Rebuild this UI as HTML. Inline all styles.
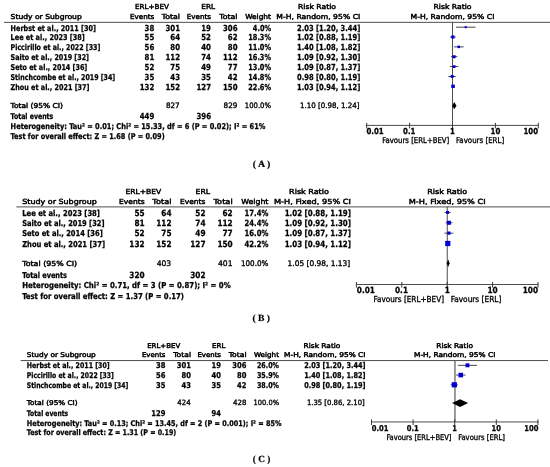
<!DOCTYPE html>
<html><head><meta charset="utf-8"><title>Forest plots</title>
<style>html,body{margin:0;padding:0;background:#fff}svg{display:block}text{font-family:'DejaVu Sans Condensed','DejaVu Sans','Liberation Sans',sans-serif;white-space:pre;text-rendering:geometricPrecision}.h{font-family:'DejaVu Sans','Liberation Sans',sans-serif}.l{font-family:'Liberation Serif','DejaVu Serif',serif}</style></head>
<body><svg width="550" height="467" viewBox="0 0 550 467">
<rect width="550" height="467" fill="#fff"/>
<text x="152.00" y="9.00" font-size="6.80" text-anchor="middle" textLength="34.09" lengthAdjust="spacingAndGlyphs" stroke="#000" stroke-width="0.45" class="h" fill="#000">ERL+BEV</text>
<text x="208.30" y="9.00" font-size="6.80" text-anchor="middle" textLength="13.84" lengthAdjust="spacingAndGlyphs" stroke="#000" stroke-width="0.45" class="h" fill="#000">ERL</text>
<text x="317.00" y="9.00" font-size="6.80" text-anchor="middle" textLength="37.97" lengthAdjust="spacingAndGlyphs" stroke="#000" stroke-width="0.45" class="h" fill="#000">Risk Ratio</text>
<text x="452.50" y="9.00" font-size="6.80" text-anchor="middle" textLength="37.97" lengthAdjust="spacingAndGlyphs" stroke="#000" stroke-width="0.45" class="h" fill="#000">Risk Ratio</text>
<text x="10.60" y="19.10" font-size="6.80" textLength="71.13" lengthAdjust="spacingAndGlyphs" stroke="#000" stroke-width="0.45" class="h" fill="#000">Study or Subgroup</text>
<text x="154.30" y="19.10" font-size="6.80" text-anchor="end" textLength="24.30" lengthAdjust="spacingAndGlyphs" stroke="#000" stroke-width="0.45" class="h" fill="#000">Events</text>
<text x="180.00" y="19.10" font-size="6.80" text-anchor="end" textLength="18.30" lengthAdjust="spacingAndGlyphs" stroke="#000" stroke-width="0.45" class="h" fill="#000">Total</text>
<text x="211.00" y="19.10" font-size="6.80" text-anchor="end" textLength="24.30" lengthAdjust="spacingAndGlyphs" stroke="#000" stroke-width="0.45" class="h" fill="#000">Events</text>
<text x="237.50" y="19.10" font-size="6.80" text-anchor="end" textLength="18.30" lengthAdjust="spacingAndGlyphs" stroke="#000" stroke-width="0.45" class="h" fill="#000">Total</text>
<text x="271.00" y="19.10" font-size="6.80" text-anchor="end" textLength="25.85" lengthAdjust="spacingAndGlyphs" stroke="#000" stroke-width="0.45" class="h" fill="#000">Weight</text>
<text x="360.30" y="19.10" font-size="6.80" text-anchor="end" textLength="83.96" lengthAdjust="spacingAndGlyphs" stroke="#000" stroke-width="0.45" class="h" fill="#000">M-H, Random, 95% CI</text>
<text x="452.50" y="19.10" font-size="6.80" text-anchor="middle" textLength="83.96" lengthAdjust="spacingAndGlyphs" stroke="#000" stroke-width="0.45" class="h" fill="#000">M-H, Random, 95% CI</text>
<rect x="4" y="21.85" width="546" height="0.9" fill="#3a3a3a"/>
<rect x="452.10" y="22.30" width="0.8" height="103.10" fill="#222"/>
<text x="10.60" y="30.55" font-size="8.00" textLength="85.40" lengthAdjust="spacingAndGlyphs" font-weight="bold" stroke="#000" stroke-width="0.25" fill="#000">Herbst et al., 2011 [30]</text>
<text x="154.30" y="30.55" font-size="8.30" text-anchor="end" textLength="9.72" lengthAdjust="spacingAndGlyphs" font-weight="bold" stroke="#000" stroke-width="0.25" fill="#000">38</text>
<text x="180.00" y="30.55" font-size="8.30" text-anchor="end" textLength="14.57" lengthAdjust="spacingAndGlyphs" font-weight="bold" stroke="#000" stroke-width="0.25" fill="#000">301</text>
<text x="211.00" y="30.55" font-size="8.30" text-anchor="end" textLength="9.72" lengthAdjust="spacingAndGlyphs" font-weight="bold" stroke="#000" stroke-width="0.25" fill="#000">19</text>
<text x="237.50" y="30.55" font-size="8.30" text-anchor="end" textLength="14.57" lengthAdjust="spacingAndGlyphs" font-weight="bold" stroke="#000" stroke-width="0.25" fill="#000">306</text>
<text x="271.00" y="30.55" font-size="8.30" text-anchor="end" textLength="18.17" lengthAdjust="spacingAndGlyphs" font-weight="bold" stroke="#000" stroke-width="0.25" fill="#000">4.0%</text>
<text x="360.30" y="30.55" font-size="8.30" text-anchor="end" textLength="63.20" lengthAdjust="spacingAndGlyphs" font-weight="bold" stroke="#000" stroke-width="0.25" fill="#000">2.03 [1.20, 3.44]</text>
<rect x="455.90" y="26.70" width="19.62" height="0.9" fill="#333"/>
<rect x="464.69" y="26.15" width="2.00" height="2.00" fill="#0000d4"/>
<text x="10.60" y="40.41" font-size="8.00" textLength="74.10" lengthAdjust="spacingAndGlyphs" font-weight="bold" stroke="#000" stroke-width="0.25" fill="#000">Lee et al., 2023 [38]</text>
<text x="154.30" y="40.41" font-size="8.30" text-anchor="end" textLength="9.72" lengthAdjust="spacingAndGlyphs" font-weight="bold" stroke="#000" stroke-width="0.25" fill="#000">55</text>
<text x="180.00" y="40.41" font-size="8.30" text-anchor="end" textLength="9.72" lengthAdjust="spacingAndGlyphs" font-weight="bold" stroke="#000" stroke-width="0.25" fill="#000">64</text>
<text x="211.00" y="40.41" font-size="8.30" text-anchor="end" textLength="9.72" lengthAdjust="spacingAndGlyphs" font-weight="bold" stroke="#000" stroke-width="0.25" fill="#000">52</text>
<text x="237.50" y="40.41" font-size="8.30" text-anchor="end" textLength="9.72" lengthAdjust="spacingAndGlyphs" font-weight="bold" stroke="#000" stroke-width="0.25" fill="#000">62</text>
<text x="271.00" y="40.41" font-size="8.30" text-anchor="end" textLength="22.72" lengthAdjust="spacingAndGlyphs" font-weight="bold" stroke="#000" stroke-width="0.25" fill="#000">18.3%</text>
<text x="360.30" y="40.41" font-size="8.30" text-anchor="end" textLength="63.20" lengthAdjust="spacingAndGlyphs" font-weight="bold" stroke="#000" stroke-width="0.25" fill="#000">1.02 [0.88, 1.19]</text>
<rect x="450.12" y="36.56" width="5.62" height="0.9" fill="#333"/>
<rect x="451.27" y="35.41" width="3.20" height="3.20" fill="#0000d4"/>
<text x="10.60" y="50.27" font-size="8.00" textLength="89.80" lengthAdjust="spacingAndGlyphs" font-weight="bold" stroke="#000" stroke-width="0.25" fill="#000">Piccirillo et al., 2022 [33]</text>
<text x="154.30" y="50.27" font-size="8.30" text-anchor="end" textLength="9.72" lengthAdjust="spacingAndGlyphs" font-weight="bold" stroke="#000" stroke-width="0.25" fill="#000">56</text>
<text x="180.00" y="50.27" font-size="8.30" text-anchor="end" textLength="9.72" lengthAdjust="spacingAndGlyphs" font-weight="bold" stroke="#000" stroke-width="0.25" fill="#000">80</text>
<text x="211.00" y="50.27" font-size="8.30" text-anchor="end" textLength="9.72" lengthAdjust="spacingAndGlyphs" font-weight="bold" stroke="#000" stroke-width="0.25" fill="#000">40</text>
<text x="237.50" y="50.27" font-size="8.30" text-anchor="end" textLength="9.72" lengthAdjust="spacingAndGlyphs" font-weight="bold" stroke="#000" stroke-width="0.25" fill="#000">80</text>
<text x="271.00" y="50.27" font-size="8.30" text-anchor="end" textLength="22.72" lengthAdjust="spacingAndGlyphs" font-weight="bold" stroke="#000" stroke-width="0.25" fill="#000">11.0%</text>
<text x="360.30" y="50.27" font-size="8.30" text-anchor="end" textLength="63.20" lengthAdjust="spacingAndGlyphs" font-weight="bold" stroke="#000" stroke-width="0.25" fill="#000">1.40 [1.08, 1.82]</text>
<rect x="453.93" y="46.42" width="9.72" height="0.9" fill="#333"/>
<rect x="457.52" y="45.62" width="2.50" height="2.50" fill="#0000d4"/>
<text x="10.60" y="60.13" font-size="8.00" textLength="78.40" lengthAdjust="spacingAndGlyphs" font-weight="bold" stroke="#000" stroke-width="0.25" fill="#000">Saito et al., 2019 [32]</text>
<text x="154.30" y="60.13" font-size="8.30" text-anchor="end" textLength="9.72" lengthAdjust="spacingAndGlyphs" font-weight="bold" stroke="#000" stroke-width="0.25" fill="#000">81</text>
<text x="180.00" y="60.13" font-size="8.30" text-anchor="end" textLength="14.57" lengthAdjust="spacingAndGlyphs" font-weight="bold" stroke="#000" stroke-width="0.25" fill="#000">112</text>
<text x="211.00" y="60.13" font-size="8.30" text-anchor="end" textLength="9.72" lengthAdjust="spacingAndGlyphs" font-weight="bold" stroke="#000" stroke-width="0.25" fill="#000">74</text>
<text x="237.50" y="60.13" font-size="8.30" text-anchor="end" textLength="14.57" lengthAdjust="spacingAndGlyphs" font-weight="bold" stroke="#000" stroke-width="0.25" fill="#000">112</text>
<text x="271.00" y="60.13" font-size="8.30" text-anchor="end" textLength="22.72" lengthAdjust="spacingAndGlyphs" font-weight="bold" stroke="#000" stroke-width="0.25" fill="#000">16.3%</text>
<text x="360.30" y="60.13" font-size="8.30" text-anchor="end" textLength="63.20" lengthAdjust="spacingAndGlyphs" font-weight="bold" stroke="#000" stroke-width="0.25" fill="#000">1.09 [0.92, 1.30]</text>
<rect x="450.95" y="56.28" width="6.44" height="0.9" fill="#333"/>
<rect x="452.61" y="55.23" width="3.00" height="3.00" fill="#0000d4"/>
<text x="10.60" y="69.99" font-size="8.00" textLength="76.70" lengthAdjust="spacingAndGlyphs" font-weight="bold" stroke="#000" stroke-width="0.25" fill="#000">Seto et al., 2014 [36]</text>
<text x="154.30" y="69.99" font-size="8.30" text-anchor="end" textLength="9.72" lengthAdjust="spacingAndGlyphs" font-weight="bold" stroke="#000" stroke-width="0.25" fill="#000">52</text>
<text x="180.00" y="69.99" font-size="8.30" text-anchor="end" textLength="9.72" lengthAdjust="spacingAndGlyphs" font-weight="bold" stroke="#000" stroke-width="0.25" fill="#000">75</text>
<text x="211.00" y="69.99" font-size="8.30" text-anchor="end" textLength="9.72" lengthAdjust="spacingAndGlyphs" font-weight="bold" stroke="#000" stroke-width="0.25" fill="#000">49</text>
<text x="237.50" y="69.99" font-size="8.30" text-anchor="end" textLength="9.72" lengthAdjust="spacingAndGlyphs" font-weight="bold" stroke="#000" stroke-width="0.25" fill="#000">77</text>
<text x="271.00" y="69.99" font-size="8.30" text-anchor="end" textLength="22.72" lengthAdjust="spacingAndGlyphs" font-weight="bold" stroke="#000" stroke-width="0.25" fill="#000">13.0%</text>
<text x="360.30" y="69.99" font-size="8.30" text-anchor="end" textLength="63.20" lengthAdjust="spacingAndGlyphs" font-weight="bold" stroke="#000" stroke-width="0.25" fill="#000">1.09 [0.87, 1.37]</text>
<rect x="449.91" y="66.14" width="8.46" height="0.9" fill="#333"/>
<rect x="452.76" y="65.24" width="2.70" height="2.70" fill="#0000d4"/>
<text x="10.60" y="79.85" font-size="8.00" textLength="104.60" lengthAdjust="spacingAndGlyphs" font-weight="bold" stroke="#000" stroke-width="0.25" fill="#000">Stinchcombe et al., 2019 [34]</text>
<text x="154.30" y="79.85" font-size="8.30" text-anchor="end" textLength="9.72" lengthAdjust="spacingAndGlyphs" font-weight="bold" stroke="#000" stroke-width="0.25" fill="#000">35</text>
<text x="180.00" y="79.85" font-size="8.30" text-anchor="end" textLength="9.72" lengthAdjust="spacingAndGlyphs" font-weight="bold" stroke="#000" stroke-width="0.25" fill="#000">43</text>
<text x="211.00" y="79.85" font-size="8.30" text-anchor="end" textLength="9.72" lengthAdjust="spacingAndGlyphs" font-weight="bold" stroke="#000" stroke-width="0.25" fill="#000">35</text>
<text x="237.50" y="79.85" font-size="8.30" text-anchor="end" textLength="9.72" lengthAdjust="spacingAndGlyphs" font-weight="bold" stroke="#000" stroke-width="0.25" fill="#000">42</text>
<text x="271.00" y="79.85" font-size="8.30" text-anchor="end" textLength="22.72" lengthAdjust="spacingAndGlyphs" font-weight="bold" stroke="#000" stroke-width="0.25" fill="#000">14.8%</text>
<text x="360.30" y="79.85" font-size="8.30" text-anchor="end" textLength="63.20" lengthAdjust="spacingAndGlyphs" font-weight="bold" stroke="#000" stroke-width="0.25" fill="#000">0.98 [0.80, 1.19]</text>
<rect x="448.34" y="76.00" width="7.40" height="0.9" fill="#333"/>
<rect x="450.67" y="75.00" width="2.90" height="2.90" fill="#0000d4"/>
<text x="10.60" y="89.71" font-size="8.00" textLength="78.90" lengthAdjust="spacingAndGlyphs" font-weight="bold" stroke="#000" stroke-width="0.25" fill="#000">Zhou et al., 2021 [37]</text>
<text x="154.30" y="89.71" font-size="8.30" text-anchor="end" textLength="14.57" lengthAdjust="spacingAndGlyphs" font-weight="bold" stroke="#000" stroke-width="0.25" fill="#000">132</text>
<text x="180.00" y="89.71" font-size="8.30" text-anchor="end" textLength="14.57" lengthAdjust="spacingAndGlyphs" font-weight="bold" stroke="#000" stroke-width="0.25" fill="#000">152</text>
<text x="211.00" y="89.71" font-size="8.30" text-anchor="end" textLength="14.57" lengthAdjust="spacingAndGlyphs" font-weight="bold" stroke="#000" stroke-width="0.25" fill="#000">127</text>
<text x="237.50" y="89.71" font-size="8.30" text-anchor="end" textLength="14.57" lengthAdjust="spacingAndGlyphs" font-weight="bold" stroke="#000" stroke-width="0.25" fill="#000">150</text>
<text x="271.00" y="89.71" font-size="8.30" text-anchor="end" textLength="22.72" lengthAdjust="spacingAndGlyphs" font-weight="bold" stroke="#000" stroke-width="0.25" fill="#000">22.6%</text>
<text x="360.30" y="89.71" font-size="8.30" text-anchor="end" textLength="63.20" lengthAdjust="spacingAndGlyphs" font-weight="bold" stroke="#000" stroke-width="0.25" fill="#000">1.03 [0.94, 1.12]</text>
<rect x="451.35" y="85.86" width="3.26" height="0.9" fill="#333"/>
<rect x="451.30" y="84.56" width="3.50" height="3.50" fill="#0000d4"/>
<text x="10.60" y="108.01" font-size="6.80" textLength="52.40" lengthAdjust="spacingAndGlyphs" stroke="#000" stroke-width="0.45" class="h" fill="#000">Total (95% CI)</text>
<text x="179.70" y="108.01" font-size="7.48" text-anchor="end" textLength="13.80" lengthAdjust="spacingAndGlyphs" stroke="#000" stroke-width="0.35" class="h" fill="#000">827</text>
<text x="237.40" y="108.01" font-size="7.48" text-anchor="end" textLength="13.90" lengthAdjust="spacingAndGlyphs" stroke="#000" stroke-width="0.35" class="h" fill="#000">829</text>
<text x="271.00" y="108.01" font-size="7.48" text-anchor="end" textLength="26.20" lengthAdjust="spacingAndGlyphs" stroke="#000" stroke-width="0.35" class="h" fill="#000">100.0%</text>
<text x="359.50" y="108.01" font-size="7.48" text-anchor="end" textLength="59.60" lengthAdjust="spacingAndGlyphs" stroke="#000" stroke-width="0.35" class="h" fill="#000">1.10 [0.98, 1.24]</text>
<polygon points="452.12,105.63 454.28,102.03 456.51,105.63 454.28,109.23" fill="#000"/>
<text x="10.60" y="119.11" font-size="8.00" textLength="42.70" lengthAdjust="spacingAndGlyphs" font-weight="bold" stroke="#000" stroke-width="0.25" fill="#000">Total events</text>
<text x="154.30" y="119.11" font-size="8.30" text-anchor="end" textLength="14.57" lengthAdjust="spacingAndGlyphs" font-weight="bold" stroke="#000" stroke-width="0.25" fill="#000">449</text>
<text x="211.00" y="119.11" font-size="8.30" text-anchor="end" textLength="14.57" lengthAdjust="spacingAndGlyphs" font-weight="bold" stroke="#000" stroke-width="0.25" fill="#000">396</text>
<text x="10.60" y="128.96" font-size="8.00" textLength="254.81" lengthAdjust="spacingAndGlyphs" font-weight="bold" stroke="#000" stroke-width="0.25" fill="#000">Heterogeneity: Tau² = 0.01; Chi² = 15.33, df = 6 (P = 0.02); I² = 61%</text>
<text x="10.60" y="138.76" font-size="8.00" textLength="154.07" lengthAdjust="spacingAndGlyphs" font-weight="bold" stroke="#000" stroke-width="0.25" fill="#000">Test for overall effect: Z = 1.68 (P = 0.09)</text>
<rect x="365.90" y="124.90" width="172.60" height="0.9" fill="#3a3a3a"/>
<rect x="366.20" y="122.80" width="1" height="5.6" fill="#3a3a3a"/>
<rect x="409.10" y="122.80" width="1" height="5.6" fill="#3a3a3a"/>
<rect x="452.00" y="122.80" width="1" height="5.6" fill="#3a3a3a"/>
<rect x="494.90" y="122.80" width="1" height="5.6" fill="#3a3a3a"/>
<rect x="537.80" y="122.80" width="1" height="5.6" fill="#3a3a3a"/>
<text x="366.40" y="133.80" font-size="8.30" textLength="17.23" lengthAdjust="spacingAndGlyphs" font-weight="bold" stroke="#000" stroke-width="0.25" fill="#000">0.01</text>
<text x="409.30" y="133.80" font-size="8.30" text-anchor="middle" textLength="12.37" lengthAdjust="spacingAndGlyphs" font-weight="bold" stroke="#000" stroke-width="0.25" fill="#000">0.1</text>
<text x="452.50" y="133.80" font-size="8.30" text-anchor="middle" textLength="4.86" lengthAdjust="spacingAndGlyphs" font-weight="bold" stroke="#000" stroke-width="0.25" fill="#000">1</text>
<text x="495.40" y="133.80" font-size="8.30" text-anchor="middle" textLength="9.72" lengthAdjust="spacingAndGlyphs" font-weight="bold" stroke="#000" stroke-width="0.25" fill="#000">10</text>
<text x="538.00" y="133.80" font-size="8.30" text-anchor="end" textLength="14.57" lengthAdjust="spacingAndGlyphs" font-weight="bold" stroke="#000" stroke-width="0.25" fill="#000">100</text>
<text x="449.30" y="142.70" font-size="8.00" text-anchor="end" textLength="67.11" lengthAdjust="spacingAndGlyphs" stroke="#000" stroke-width="0.3" fill="#000">Favours [ERL+BEV]</text>
<text x="456.00" y="142.70" font-size="8.00" textLength="48.19" lengthAdjust="spacingAndGlyphs" stroke="#000" stroke-width="0.3" fill="#000">Favours [ERL]</text>
<text x="261.50" y="166.90" font-size="9.40" text-anchor="middle" textLength="17.50" lengthAdjust="spacingAndGlyphs" font-weight="bold" stroke="#000" stroke-width="0.2" class="l" fill="#000">( A )</text>
<text x="143.40" y="193.50" font-size="7.00" text-anchor="middle" textLength="35.79" lengthAdjust="spacingAndGlyphs" stroke="#000" stroke-width="0.45" class="h" fill="#000">ERL+BEV</text>
<text x="202.80" y="193.50" font-size="7.00" text-anchor="middle" textLength="14.54" lengthAdjust="spacingAndGlyphs" stroke="#000" stroke-width="0.45" class="h" fill="#000">ERL</text>
<text x="309.00" y="193.50" font-size="7.00" text-anchor="middle" textLength="39.87" lengthAdjust="spacingAndGlyphs" stroke="#000" stroke-width="0.45" class="h" fill="#000">Risk Ratio</text>
<text x="447.20" y="193.50" font-size="7.00" text-anchor="middle" textLength="39.87" lengthAdjust="spacingAndGlyphs" stroke="#000" stroke-width="0.45" class="h" fill="#000">Risk Ratio</text>
<text x="22.20" y="204.00" font-size="7.00" textLength="74.69" lengthAdjust="spacingAndGlyphs" stroke="#000" stroke-width="0.45" class="h" fill="#000">Study or Subgroup</text>
<text x="144.60" y="204.00" font-size="7.00" text-anchor="end" textLength="25.52" lengthAdjust="spacingAndGlyphs" stroke="#000" stroke-width="0.45" class="h" fill="#000">Events</text>
<text x="171.50" y="204.00" font-size="7.00" text-anchor="end" textLength="19.21" lengthAdjust="spacingAndGlyphs" stroke="#000" stroke-width="0.45" class="h" fill="#000">Total</text>
<text x="205.50" y="204.00" font-size="7.00" text-anchor="end" textLength="25.52" lengthAdjust="spacingAndGlyphs" stroke="#000" stroke-width="0.45" class="h" fill="#000">Events</text>
<text x="232.70" y="204.00" font-size="7.00" text-anchor="end" textLength="19.21" lengthAdjust="spacingAndGlyphs" stroke="#000" stroke-width="0.45" class="h" fill="#000">Total</text>
<text x="268.40" y="204.00" font-size="7.00" text-anchor="end" textLength="27.14" lengthAdjust="spacingAndGlyphs" stroke="#000" stroke-width="0.45" class="h" fill="#000">Weight</text>
<text x="351.00" y="204.00" font-size="7.00" text-anchor="end" textLength="77.01" lengthAdjust="spacingAndGlyphs" stroke="#000" stroke-width="0.45" class="h" fill="#000">M-H, Fixed, 95% CI</text>
<text x="447.20" y="204.00" font-size="7.00" text-anchor="middle" textLength="77.01" lengthAdjust="spacingAndGlyphs" stroke="#000" stroke-width="0.45" class="h" fill="#000">M-H, Fixed, 95% CI</text>
<rect x="16.4" y="206.45" width="533.6" height="0.9" fill="#3a3a3a"/>
<rect x="446.80" y="206.90" width="0.8" height="77.70" fill="#222"/>
<text x="22.20" y="215.60" font-size="8.24" textLength="77.80" lengthAdjust="spacingAndGlyphs" font-weight="bold" stroke="#000" stroke-width="0.25" fill="#000">Lee et al., 2023 [38]</text>
<text x="144.60" y="215.60" font-size="8.55" text-anchor="end" textLength="10.20" lengthAdjust="spacingAndGlyphs" font-weight="bold" stroke="#000" stroke-width="0.25" fill="#000">55</text>
<text x="171.50" y="215.60" font-size="8.55" text-anchor="end" textLength="10.20" lengthAdjust="spacingAndGlyphs" font-weight="bold" stroke="#000" stroke-width="0.25" fill="#000">64</text>
<text x="205.50" y="215.60" font-size="8.55" text-anchor="end" textLength="10.20" lengthAdjust="spacingAndGlyphs" font-weight="bold" stroke="#000" stroke-width="0.25" fill="#000">52</text>
<text x="232.70" y="215.60" font-size="8.55" text-anchor="end" textLength="10.20" lengthAdjust="spacingAndGlyphs" font-weight="bold" stroke="#000" stroke-width="0.25" fill="#000">62</text>
<text x="268.40" y="215.60" font-size="8.55" text-anchor="end" textLength="23.86" lengthAdjust="spacingAndGlyphs" font-weight="bold" stroke="#000" stroke-width="0.25" fill="#000">17.4%</text>
<text x="351.00" y="215.60" font-size="8.55" text-anchor="end" textLength="66.36" lengthAdjust="spacingAndGlyphs" font-weight="bold" stroke="#000" stroke-width="0.25" fill="#000">1.02 [0.88, 1.19]</text>
<rect x="444.68" y="211.98" width="5.95" height="0.9" fill="#333"/>
<rect x="446.09" y="210.93" width="3.00" height="3.00" fill="#0000d4"/>
<text x="22.20" y="225.95" font-size="8.24" textLength="82.32" lengthAdjust="spacingAndGlyphs" font-weight="bold" stroke="#000" stroke-width="0.25" fill="#000">Saito et al., 2019 [32]</text>
<text x="144.60" y="225.95" font-size="8.55" text-anchor="end" textLength="10.20" lengthAdjust="spacingAndGlyphs" font-weight="bold" stroke="#000" stroke-width="0.25" fill="#000">81</text>
<text x="171.50" y="225.95" font-size="8.55" text-anchor="end" textLength="15.30" lengthAdjust="spacingAndGlyphs" font-weight="bold" stroke="#000" stroke-width="0.25" fill="#000">112</text>
<text x="205.50" y="225.95" font-size="8.55" text-anchor="end" textLength="10.20" lengthAdjust="spacingAndGlyphs" font-weight="bold" stroke="#000" stroke-width="0.25" fill="#000">74</text>
<text x="232.70" y="225.95" font-size="8.55" text-anchor="end" textLength="15.30" lengthAdjust="spacingAndGlyphs" font-weight="bold" stroke="#000" stroke-width="0.25" fill="#000">112</text>
<text x="268.40" y="225.95" font-size="8.55" text-anchor="end" textLength="23.86" lengthAdjust="spacingAndGlyphs" font-weight="bold" stroke="#000" stroke-width="0.25" fill="#000">24.4%</text>
<text x="351.00" y="225.95" font-size="8.55" text-anchor="end" textLength="66.36" lengthAdjust="spacingAndGlyphs" font-weight="bold" stroke="#000" stroke-width="0.25" fill="#000">1.09 [0.92, 1.30]</text>
<rect x="445.56" y="222.33" width="6.82" height="0.9" fill="#333"/>
<rect x="446.90" y="220.78" width="4.00" height="4.00" fill="#0000d4"/>
<text x="22.20" y="236.30" font-size="8.24" textLength="80.54" lengthAdjust="spacingAndGlyphs" font-weight="bold" stroke="#000" stroke-width="0.25" fill="#000">Seto et al., 2014 [36]</text>
<text x="144.60" y="236.30" font-size="8.55" text-anchor="end" textLength="10.20" lengthAdjust="spacingAndGlyphs" font-weight="bold" stroke="#000" stroke-width="0.25" fill="#000">52</text>
<text x="171.50" y="236.30" font-size="8.55" text-anchor="end" textLength="10.20" lengthAdjust="spacingAndGlyphs" font-weight="bold" stroke="#000" stroke-width="0.25" fill="#000">75</text>
<text x="205.50" y="236.30" font-size="8.55" text-anchor="end" textLength="10.20" lengthAdjust="spacingAndGlyphs" font-weight="bold" stroke="#000" stroke-width="0.25" fill="#000">49</text>
<text x="232.70" y="236.30" font-size="8.55" text-anchor="end" textLength="10.20" lengthAdjust="spacingAndGlyphs" font-weight="bold" stroke="#000" stroke-width="0.25" fill="#000">77</text>
<text x="268.40" y="236.30" font-size="8.55" text-anchor="end" textLength="23.86" lengthAdjust="spacingAndGlyphs" font-weight="bold" stroke="#000" stroke-width="0.25" fill="#000">16.0%</text>
<text x="351.00" y="236.30" font-size="8.55" text-anchor="end" textLength="66.36" lengthAdjust="spacingAndGlyphs" font-weight="bold" stroke="#000" stroke-width="0.25" fill="#000">1.09 [0.87, 1.37]</text>
<rect x="444.45" y="232.68" width="8.95" height="0.9" fill="#333"/>
<rect x="447.30" y="231.53" width="3.20" height="3.20" fill="#0000d4"/>
<text x="22.20" y="246.65" font-size="8.24" textLength="82.84" lengthAdjust="spacingAndGlyphs" font-weight="bold" stroke="#000" stroke-width="0.25" fill="#000">Zhou et al., 2021 [37]</text>
<text x="144.60" y="246.65" font-size="8.55" text-anchor="end" textLength="15.30" lengthAdjust="spacingAndGlyphs" font-weight="bold" stroke="#000" stroke-width="0.25" fill="#000">132</text>
<text x="171.50" y="246.65" font-size="8.55" text-anchor="end" textLength="15.30" lengthAdjust="spacingAndGlyphs" font-weight="bold" stroke="#000" stroke-width="0.25" fill="#000">152</text>
<text x="205.50" y="246.65" font-size="8.55" text-anchor="end" textLength="15.30" lengthAdjust="spacingAndGlyphs" font-weight="bold" stroke="#000" stroke-width="0.25" fill="#000">127</text>
<text x="232.70" y="246.65" font-size="8.55" text-anchor="end" textLength="15.30" lengthAdjust="spacingAndGlyphs" font-weight="bold" stroke="#000" stroke-width="0.25" fill="#000">150</text>
<text x="268.40" y="246.65" font-size="8.55" text-anchor="end" textLength="23.86" lengthAdjust="spacingAndGlyphs" font-weight="bold" stroke="#000" stroke-width="0.25" fill="#000">42.2%</text>
<text x="351.00" y="246.65" font-size="8.55" text-anchor="end" textLength="66.36" lengthAdjust="spacingAndGlyphs" font-weight="bold" stroke="#000" stroke-width="0.25" fill="#000">1.03 [0.94, 1.12]</text>
<rect x="445.98" y="243.03" width="3.45" height="0.9" fill="#333"/>
<rect x="445.18" y="240.88" width="5.20" height="5.20" fill="#0000d4"/>
<text x="22.20" y="265.86" font-size="7.00" textLength="55.02" lengthAdjust="spacingAndGlyphs" stroke="#000" stroke-width="0.45" class="h" fill="#000">Total (95% CI)</text>
<text x="171.20" y="265.86" font-size="7.70" text-anchor="end" textLength="14.49" lengthAdjust="spacingAndGlyphs" stroke="#000" stroke-width="0.35" class="h" fill="#000">403</text>
<text x="232.60" y="265.86" font-size="7.70" text-anchor="end" textLength="14.60" lengthAdjust="spacingAndGlyphs" stroke="#000" stroke-width="0.35" class="h" fill="#000">401</text>
<text x="268.40" y="265.86" font-size="7.70" text-anchor="end" textLength="27.51" lengthAdjust="spacingAndGlyphs" stroke="#000" stroke-width="0.35" class="h" fill="#000">100.0%</text>
<text x="350.20" y="265.86" font-size="7.70" text-anchor="end" textLength="62.58" lengthAdjust="spacingAndGlyphs" stroke="#000" stroke-width="0.35" class="h" fill="#000">1.05 [0.98, 1.13]</text>
<polygon points="446.80,263.28 448.16,259.50 449.61,263.28 448.16,267.06" fill="#000"/>
<text x="22.20" y="277.92" font-size="8.24" textLength="44.84" lengthAdjust="spacingAndGlyphs" font-weight="bold" stroke="#000" stroke-width="0.25" fill="#000">Total events</text>
<text x="144.60" y="277.92" font-size="8.55" text-anchor="end" textLength="15.30" lengthAdjust="spacingAndGlyphs" font-weight="bold" stroke="#000" stroke-width="0.25" fill="#000">320</text>
<text x="205.50" y="277.92" font-size="8.55" text-anchor="end" textLength="15.30" lengthAdjust="spacingAndGlyphs" font-weight="bold" stroke="#000" stroke-width="0.25" fill="#000">302</text>
<text x="22.20" y="288.26" font-size="8.24" textLength="208.43" lengthAdjust="spacingAndGlyphs" font-weight="bold" stroke="#000" stroke-width="0.25" fill="#000">Heterogeneity: Chi² = 0.71, df = 3 (P = 0.87); I² = 0%</text>
<text x="22.20" y="298.55" font-size="8.24" textLength="161.77" lengthAdjust="spacingAndGlyphs" font-weight="bold" stroke="#000" stroke-width="0.25" fill="#000">Test for overall effect: Z = 1.37 (P = 0.17)</text>
<rect x="356.30" y="284.10" width="182.20" height="0.9" fill="#3a3a3a"/>
<rect x="355.90" y="282.00" width="1" height="5.6" fill="#3a3a3a"/>
<rect x="401.30" y="282.00" width="1" height="5.6" fill="#3a3a3a"/>
<rect x="446.70" y="282.00" width="1" height="5.6" fill="#3a3a3a"/>
<rect x="492.10" y="282.00" width="1" height="5.6" fill="#3a3a3a"/>
<rect x="537.50" y="282.00" width="1" height="5.6" fill="#3a3a3a"/>
<text x="356.80" y="293.20" font-size="8.55" textLength="18.09" lengthAdjust="spacingAndGlyphs" font-weight="bold" stroke="#000" stroke-width="0.25" fill="#000">0.01</text>
<text x="401.50" y="293.20" font-size="8.55" text-anchor="middle" textLength="12.99" lengthAdjust="spacingAndGlyphs" font-weight="bold" stroke="#000" stroke-width="0.25" fill="#000">0.1</text>
<text x="447.20" y="293.20" font-size="8.55" text-anchor="middle" textLength="5.10" lengthAdjust="spacingAndGlyphs" font-weight="bold" stroke="#000" stroke-width="0.25" fill="#000">1</text>
<text x="492.60" y="293.20" font-size="8.55" text-anchor="middle" textLength="10.20" lengthAdjust="spacingAndGlyphs" font-weight="bold" stroke="#000" stroke-width="0.25" fill="#000">10</text>
<text x="538.00" y="293.20" font-size="8.55" text-anchor="end" textLength="15.30" lengthAdjust="spacingAndGlyphs" font-weight="bold" stroke="#000" stroke-width="0.25" fill="#000">100</text>
<text x="444.00" y="302.30" font-size="8.24" text-anchor="end" textLength="70.47" lengthAdjust="spacingAndGlyphs" stroke="#000" stroke-width="0.3" fill="#000">Favours [ERL+BEV]</text>
<text x="450.70" y="302.30" font-size="8.24" textLength="50.60" lengthAdjust="spacingAndGlyphs" stroke="#000" stroke-width="0.3" fill="#000">Favours [ERL]</text>
<text x="261.30" y="320.70" font-size="9.40" text-anchor="middle" textLength="17.50" lengthAdjust="spacingAndGlyphs" font-weight="bold" stroke="#000" stroke-width="0.2" class="l" fill="#000">( B )</text>
<text x="163.70" y="347.60" font-size="6.60" text-anchor="middle" textLength="33.07" lengthAdjust="spacingAndGlyphs" stroke="#000" stroke-width="0.45" class="h" fill="#000">ERL+BEV</text>
<text x="218.70" y="347.60" font-size="6.60" text-anchor="middle" textLength="13.43" lengthAdjust="spacingAndGlyphs" stroke="#000" stroke-width="0.45" class="h" fill="#000">ERL</text>
<text x="322.00" y="347.60" font-size="6.60" text-anchor="middle" textLength="36.83" lengthAdjust="spacingAndGlyphs" stroke="#000" stroke-width="0.45" class="h" fill="#000">Risk Ratio</text>
<text x="454.70" y="347.60" font-size="6.60" text-anchor="middle" textLength="36.83" lengthAdjust="spacingAndGlyphs" stroke="#000" stroke-width="0.45" class="h" fill="#000">Risk Ratio</text>
<text x="26.80" y="357.30" font-size="6.60" textLength="69.00" lengthAdjust="spacingAndGlyphs" stroke="#000" stroke-width="0.45" class="h" fill="#000">Study or Subgroup</text>
<text x="165.50" y="357.30" font-size="6.60" text-anchor="end" textLength="23.57" lengthAdjust="spacingAndGlyphs" stroke="#000" stroke-width="0.45" class="h" fill="#000">Events</text>
<text x="191.00" y="357.30" font-size="6.60" text-anchor="end" textLength="17.75" lengthAdjust="spacingAndGlyphs" stroke="#000" stroke-width="0.45" class="h" fill="#000">Total</text>
<text x="221.00" y="357.30" font-size="6.60" text-anchor="end" textLength="23.57" lengthAdjust="spacingAndGlyphs" stroke="#000" stroke-width="0.45" class="h" fill="#000">Events</text>
<text x="246.50" y="357.30" font-size="6.60" text-anchor="end" textLength="17.75" lengthAdjust="spacingAndGlyphs" stroke="#000" stroke-width="0.45" class="h" fill="#000">Total</text>
<text x="279.00" y="357.30" font-size="6.60" text-anchor="end" textLength="25.08" lengthAdjust="spacingAndGlyphs" stroke="#000" stroke-width="0.45" class="h" fill="#000">Weight</text>
<text x="365.50" y="357.30" font-size="6.60" text-anchor="end" textLength="81.45" lengthAdjust="spacingAndGlyphs" stroke="#000" stroke-width="0.45" class="h" fill="#000">M-H, Random, 95% CI</text>
<text x="454.70" y="357.30" font-size="6.60" text-anchor="middle" textLength="81.45" lengthAdjust="spacingAndGlyphs" stroke="#000" stroke-width="0.45" class="h" fill="#000">M-H, Random, 95% CI</text>
<rect x="20.7" y="360.15" width="527.3" height="0.9" fill="#3a3a3a"/>
<rect x="454.35" y="360.60" width="1.2" height="61.40" fill="#5a5a5a"/>
<text x="26.80" y="368.20" font-size="7.76" textLength="82.84" lengthAdjust="spacingAndGlyphs" font-weight="bold" stroke="#000" stroke-width="0.25" fill="#000">Herbst et al., 2011 [30]</text>
<text x="165.50" y="368.20" font-size="8.05" text-anchor="end" textLength="9.42" lengthAdjust="spacingAndGlyphs" font-weight="bold" stroke="#000" stroke-width="0.25" fill="#000">38</text>
<text x="191.00" y="368.20" font-size="8.05" text-anchor="end" textLength="14.14" lengthAdjust="spacingAndGlyphs" font-weight="bold" stroke="#000" stroke-width="0.25" fill="#000">301</text>
<text x="221.00" y="368.20" font-size="8.05" text-anchor="end" textLength="9.42" lengthAdjust="spacingAndGlyphs" font-weight="bold" stroke="#000" stroke-width="0.25" fill="#000">19</text>
<text x="246.50" y="368.20" font-size="8.05" text-anchor="end" textLength="14.14" lengthAdjust="spacingAndGlyphs" font-weight="bold" stroke="#000" stroke-width="0.25" fill="#000">306</text>
<text x="279.00" y="368.20" font-size="8.05" text-anchor="end" textLength="22.04" lengthAdjust="spacingAndGlyphs" font-weight="bold" stroke="#000" stroke-width="0.25" fill="#000">26.0%</text>
<text x="365.50" y="368.20" font-size="8.05" text-anchor="end" textLength="61.31" lengthAdjust="spacingAndGlyphs" font-weight="bold" stroke="#000" stroke-width="0.25" fill="#000">2.03 [1.20, 3.44]</text>
<rect x="457.99" y="364.85" width="19.03" height="0.9" fill="#333"/>
<rect x="465.54" y="363.35" width="3.90" height="3.90" fill="#0000d4"/>
<text x="26.80" y="377.95" font-size="7.76" textLength="87.11" lengthAdjust="spacingAndGlyphs" font-weight="bold" stroke="#000" stroke-width="0.25" fill="#000">Piccirillo et al., 2022 [33]</text>
<text x="165.50" y="377.95" font-size="8.05" text-anchor="end" textLength="9.42" lengthAdjust="spacingAndGlyphs" font-weight="bold" stroke="#000" stroke-width="0.25" fill="#000">56</text>
<text x="191.00" y="377.95" font-size="8.05" text-anchor="end" textLength="9.42" lengthAdjust="spacingAndGlyphs" font-weight="bold" stroke="#000" stroke-width="0.25" fill="#000">80</text>
<text x="221.00" y="377.95" font-size="8.05" text-anchor="end" textLength="9.42" lengthAdjust="spacingAndGlyphs" font-weight="bold" stroke="#000" stroke-width="0.25" fill="#000">40</text>
<text x="246.50" y="377.95" font-size="8.05" text-anchor="end" textLength="9.42" lengthAdjust="spacingAndGlyphs" font-weight="bold" stroke="#000" stroke-width="0.25" fill="#000">80</text>
<text x="279.00" y="377.95" font-size="8.05" text-anchor="end" textLength="22.04" lengthAdjust="spacingAndGlyphs" font-weight="bold" stroke="#000" stroke-width="0.25" fill="#000">35.9%</text>
<text x="365.50" y="377.95" font-size="8.05" text-anchor="end" textLength="61.31" lengthAdjust="spacingAndGlyphs" font-weight="bold" stroke="#000" stroke-width="0.25" fill="#000">1.40 [1.08, 1.82]</text>
<rect x="456.09" y="374.60" width="9.43" height="0.9" fill="#333"/>
<rect x="458.48" y="372.75" width="4.60" height="4.60" fill="#0000d4"/>
<text x="26.80" y="387.70" font-size="7.76" textLength="101.46" lengthAdjust="spacingAndGlyphs" font-weight="bold" stroke="#000" stroke-width="0.25" fill="#000">Stinchcombe et al., 2019 [34]</text>
<text x="165.50" y="387.70" font-size="8.05" text-anchor="end" textLength="9.42" lengthAdjust="spacingAndGlyphs" font-weight="bold" stroke="#000" stroke-width="0.25" fill="#000">35</text>
<text x="191.00" y="387.70" font-size="8.05" text-anchor="end" textLength="9.42" lengthAdjust="spacingAndGlyphs" font-weight="bold" stroke="#000" stroke-width="0.25" fill="#000">43</text>
<text x="221.00" y="387.70" font-size="8.05" text-anchor="end" textLength="9.42" lengthAdjust="spacingAndGlyphs" font-weight="bold" stroke="#000" stroke-width="0.25" fill="#000">35</text>
<text x="246.50" y="387.70" font-size="8.05" text-anchor="end" textLength="9.42" lengthAdjust="spacingAndGlyphs" font-weight="bold" stroke="#000" stroke-width="0.25" fill="#000">42</text>
<text x="279.00" y="387.70" font-size="8.05" text-anchor="end" textLength="22.04" lengthAdjust="spacingAndGlyphs" font-weight="bold" stroke="#000" stroke-width="0.25" fill="#000">38.0%</text>
<text x="365.50" y="387.70" font-size="8.05" text-anchor="end" textLength="61.31" lengthAdjust="spacingAndGlyphs" font-weight="bold" stroke="#000" stroke-width="0.25" fill="#000">0.98 [0.80, 1.19]</text>
<rect x="450.67" y="384.35" width="7.17" height="0.9" fill="#333"/>
<rect x="451.74" y="382.20" width="5.20" height="5.20" fill="#0000d4"/>
<text x="26.80" y="405.45" font-size="6.60" textLength="50.83" lengthAdjust="spacingAndGlyphs" stroke="#000" stroke-width="0.45" class="h" fill="#000">Total (95% CI)</text>
<text x="190.70" y="405.45" font-size="7.26" text-anchor="end" textLength="13.39" lengthAdjust="spacingAndGlyphs" stroke="#000" stroke-width="0.35" class="h" fill="#000">424</text>
<text x="246.40" y="405.45" font-size="7.26" text-anchor="end" textLength="13.48" lengthAdjust="spacingAndGlyphs" stroke="#000" stroke-width="0.35" class="h" fill="#000">428</text>
<text x="279.00" y="405.45" font-size="7.26" text-anchor="end" textLength="25.41" lengthAdjust="spacingAndGlyphs" stroke="#000" stroke-width="0.35" class="h" fill="#000">100.0%</text>
<text x="364.70" y="405.45" font-size="7.26" text-anchor="end" textLength="57.81" lengthAdjust="spacingAndGlyphs" stroke="#000" stroke-width="0.35" class="h" fill="#000">1.35 [0.86, 2.10]</text>
<polygon points="451.98,403.10 460.12,399.22 468.10,403.10 460.12,406.98" fill="#000"/>
<text x="26.80" y="416.22" font-size="7.76" textLength="41.42" lengthAdjust="spacingAndGlyphs" font-weight="bold" stroke="#000" stroke-width="0.25" fill="#000">Total events</text>
<text x="165.50" y="416.22" font-size="8.05" text-anchor="end" textLength="14.14" lengthAdjust="spacingAndGlyphs" font-weight="bold" stroke="#000" stroke-width="0.25" fill="#000">129</text>
<text x="221.00" y="416.22" font-size="8.05" text-anchor="end" textLength="9.42" lengthAdjust="spacingAndGlyphs" font-weight="bold" stroke="#000" stroke-width="0.25" fill="#000">94</text>
<text x="26.80" y="425.77" font-size="7.76" textLength="254.65" lengthAdjust="spacingAndGlyphs" font-weight="bold" stroke="#000" stroke-width="0.25" fill="#000">Heterogeneity: Tau² = 0.13; Chi² = 13.45, df = 2 (P = 0.001); I² = 85%</text>
<text x="26.80" y="435.28" font-size="7.76" textLength="149.45" lengthAdjust="spacingAndGlyphs" font-weight="bold" stroke="#000" stroke-width="0.25" fill="#000">Test for overall effect: Z = 1.31 (P = 0.19)</text>
<rect x="371.30" y="421.50" width="167.60" height="0.9" fill="#3a3a3a"/>
<rect x="371.00" y="419.40" width="1" height="5.6" fill="#3a3a3a"/>
<rect x="412.60" y="419.40" width="1" height="5.6" fill="#3a3a3a"/>
<rect x="454.20" y="419.40" width="1" height="5.6" fill="#3a3a3a"/>
<rect x="495.80" y="419.40" width="1" height="5.6" fill="#3a3a3a"/>
<rect x="537.40" y="419.40" width="1" height="5.6" fill="#3a3a3a"/>
<text x="371.80" y="430.80" font-size="8.05" textLength="16.71" lengthAdjust="spacingAndGlyphs" font-weight="bold" stroke="#000" stroke-width="0.25" fill="#000">0.01</text>
<text x="412.80" y="430.80" font-size="8.05" text-anchor="middle" textLength="12.00" lengthAdjust="spacingAndGlyphs" font-weight="bold" stroke="#000" stroke-width="0.25" fill="#000">0.1</text>
<text x="454.70" y="430.80" font-size="8.05" text-anchor="middle" textLength="4.71" lengthAdjust="spacingAndGlyphs" font-weight="bold" stroke="#000" stroke-width="0.25" fill="#000">1</text>
<text x="496.30" y="430.80" font-size="8.05" text-anchor="middle" textLength="9.42" lengthAdjust="spacingAndGlyphs" font-weight="bold" stroke="#000" stroke-width="0.25" fill="#000">10</text>
<text x="538.40" y="430.80" font-size="8.05" text-anchor="end" textLength="14.14" lengthAdjust="spacingAndGlyphs" font-weight="bold" stroke="#000" stroke-width="0.25" fill="#000">100</text>
<text x="451.50" y="439.70" font-size="7.76" text-anchor="end" textLength="65.10" lengthAdjust="spacingAndGlyphs" stroke="#000" stroke-width="0.3" fill="#000">Favours [ERL+BEV]</text>
<text x="458.20" y="439.70" font-size="7.76" textLength="46.74" lengthAdjust="spacingAndGlyphs" stroke="#000" stroke-width="0.3" fill="#000">Favours [ERL]</text>
<text x="261.50" y="462.20" font-size="9.40" text-anchor="middle" textLength="17.50" lengthAdjust="spacingAndGlyphs" font-weight="bold" stroke="#000" stroke-width="0.2" class="l" fill="#000">( C )</text>
</svg></body></html>
